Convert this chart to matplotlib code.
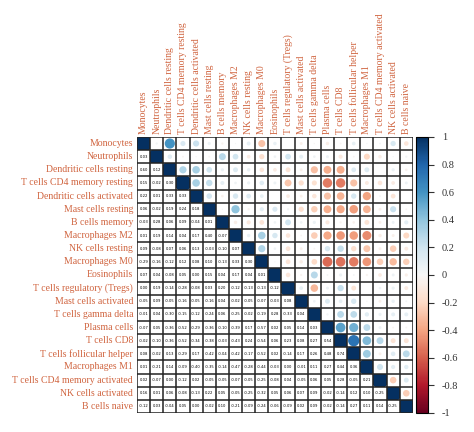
import numpy as np
import matplotlib
matplotlib.use("Agg")
import matplotlib.pyplot as plt
from matplotlib.patches import Circle, Rectangle
from matplotlib.cm import ScalarMappable
from matplotlib.colors import Normalize

# cell types, same order on both axes
cells = [
    "Monocytes", "Neutrophils", "Dendritic cells resting",
    "T cells CD4 memory resting", "Dendritic cells activated",
    "Mast cells resting", "B cells memory", "Macrophages M2",
    "NK cells resting", "Macrophages M0", "Eosinophils",
    "T cells regulatory (Tregs)", "Mast cells activated",
    "T cells gamma delta", "Plasma cells", "T cells CD8",
    "T cells follicular helper", "Macrophages M1",
    "T cells CD4 memory activated", "NK cells activated", "B cells naive",
]

# lower triangle of the correlation matrix, row i holds columns 0..i-1
lower = [
    [],
    [0.03],
    [0.60, 0.12],
    [0.15, -0.02, 0.30],
    [0.22, 0.01, 0.33, 0.33],
    [0.06, -0.02, 0.19, 0.24, 0.18],
    [-0.03, 0.28, 0.06, 0.09, -0.04, 0.01],
    [0.01, 0.19, 0.14, 0.04, 0.17, 0.40, -0.07],
    [0.09, -0.08, 0.07, 0.06, 0.13, -0.03, -0.10, 0.07],
    [-0.29, -0.16, -0.12, 0.12, 0.08, 0.10, -0.13, 0.33, 0.30],
    [0.07, 0.04, -0.08, 0.05, 0.00, 0.15, 0.04, 0.17, 0.04, 0.01],
    [0.00, 0.19, -0.14, -0.28, -0.08, 0.03, 0.20, -0.12, -0.13, -0.13, -0.12],
    [-0.05, 0.09, -0.05, -0.16, -0.05, -0.16, 0.04, -0.02, -0.05, -0.07, -0.03, 0.08],
    [-0.01, 0.04, -0.30, -0.15, -0.12, -0.24, 0.06, -0.25, -0.02, -0.19, 0.28, -0.33, 0.04],
    [-0.07, 0.05, -0.36, -0.52, -0.29, -0.36, -0.10, -0.39, 0.17, -0.57, 0.02, 0.05, 0.14, 0.03],
    [-0.02, -0.10, -0.36, -0.52, -0.34, -0.38, -0.03, -0.43, 0.24, -0.54, 0.06, 0.23, 0.08, 0.27, 0.54],
    [0.08, -0.02, 0.13, -0.29, 0.17, -0.42, -0.04, -0.42, -0.17, -0.52, 0.02, -0.14, 0.17, 0.26, 0.48, 0.74],
    [0.01, -0.21, 0.14, -0.09, -0.40, -0.35, -0.14, -0.47, -0.28, -0.44, -0.03, 0.00, -0.01, 0.11, 0.27, 0.44, 0.36],
    [0.02, -0.07, 0.00, -0.12, 0.02, -0.05, -0.05, -0.07, -0.05, -0.25, -0.08, 0.04, -0.05, 0.06, 0.05, 0.28, -0.05, 0.21],
    [0.16, 0.01, 0.06, -0.08, -0.13, 0.22, 0.05, -0.05, -0.25, -0.32, 0.05, 0.06, 0.07, 0.09, -0.02, -0.14, 0.12, 0.10, -0.25],
    [-0.12, 0.03, -0.04, 0.05, 0.00, -0.02, 0.10, -0.21, -0.09, -0.24, -0.06, -0.09, 0.02, 0.09, -0.02, -0.14, 0.27, 0.11, 0.14, -0.25],
]

cbar_ticks = [1, 0.8, 0.6, 0.4, 0.2, 0, -0.2, -0.4, -0.6, -0.8, -1]

n = len(cells)
corr = np.eye(n)
for i, row in enumerate(lower):
    for j, v in enumerate(row):
        corr[i, j] = v
        corr[j, i] = v

label_color = "#D0643F"
serif = ["Liberation Serif", "DejaVu Serif"]
cmap = plt.get_cmap("RdBu")
norm = Normalize(-1, 1)

fig = plt.figure(figsize=(4.74, 4.32), dpi=100)
ax = fig.add_axes([0.289, 0.044, 0.582, 0.639])
ax.set_xlim(0, n)
ax.set_ylim(n, 0)
ax.set_axis_off()

for i in range(n):
    for j in range(n):
        v = corr[i, j]
        if j < i:
            ax.text(j + 0.5, i + 0.5, "%.2f" % v, ha="center", va="center",
                    fontsize=2.7, color="black")
        else:
            cell = Rectangle((j, i), 1, 1, transform=ax.transData)
            r = 0.64 if i == j else 0.5 * np.sqrt(abs(v))
            c = Circle((j + 0.5, i + 0.5), r, color=cmap(norm(v)), lw=0)
            ax.add_patch(c)
            c.set_clip_path(cell)

# grid lines
for k in range(n + 1):
    ax.plot([k, k], [0, n], color="#222222", lw=1.1, solid_capstyle="butt")
    ax.plot([0, n], [k, k], color="#222222", lw=1.1, solid_capstyle="butt")

# labels
for k, name in enumerate(cells):
    ax.text(-0.3, k + 0.5, name, ha="right", va="center", fontsize=7,
            color=label_color, family=serif)
    ax.text(k + 0.5, -0.25, name, ha="center", va="bottom", rotation=90,
            fontsize=7, color=label_color, family=serif)

# colour bar
cax = fig.add_axes([0.878, 0.044, 0.025, 0.639])
cb = fig.colorbar(ScalarMappable(norm=norm, cmap=cmap), cax=cax, ticks=cbar_ticks)
cb.ax.set_yticklabels([("%g" % t) for t in cbar_ticks], family=serif, fontsize=7.5)
cb.ax.tick_params(length=4, width=0.8, pad=6, color="#333333", labelcolor="#333333")
cb.outline.set_linewidth(0.8)

fig.savefig("out.png", dpi=100)
